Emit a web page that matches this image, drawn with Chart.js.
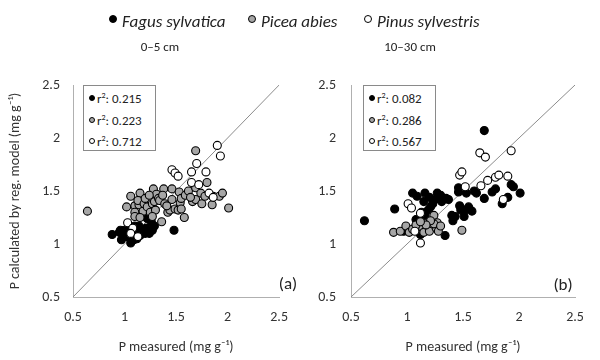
<!DOCTYPE html>
<html>
<head>
<meta charset="utf-8">
<script src="https://cdn.jsdelivr.net/npm/chart.js@4"></script>
<style>
body { margin: 0; background: #fff; }
#wrap { position: relative; width: 600px; height: 360px; font-family: Carlito, Lato, sans-serif; color: #222; }
canvas { position: absolute; top: 0; }
.t { position: absolute; white-space: nowrap; line-height: 1; }
.dot { position: absolute; border-radius: 50%; border: 1px solid #000; box-sizing: border-box; }
.box { position: absolute; border: 1px solid #8a8a8a; background: #fff; width: 73px; height: 66px; box-sizing: border-box; }
</style>
</head>
<body>
<div id="wrap">
  <canvas id="c1" width="300" height="360" style="left:0"></canvas>
  <canvas id="c2" width="300" height="360" style="left:300px"></canvas>
</div>
<script>
// axis ticks (both panels)
const axisTicks = [0.5, 1, 1.5, 2, 2.5];
const species = ['Fagus sylvatica', 'Picea abies', 'Pinus sylvestris'];
const depths = ['0–5 cm', '10–30 cm'];
const panelTags = ['(a)', '(b)'];
const r2Top = ['0.215', '0.223', '0.712'];
const r2Sub = ['0.082', '0.286', '0.567'];

// panel (a) 0-5 cm : [measured, calculated]
const fagusTop = [[0.88,1.09],[0.95,1.11],[0.96,1.13],[0.97,1.04],[1.00,1.13],[1.02,1.07],[1.00,1.08],[1.06,1.10],
  [1.06,1.01],[1.09,1.04],[1.10,1.17],[1.12,1.12],[1.14,1.17],[1.15,1.08],[1.18,1.13],[1.20,1.10],[1.21,1.15],
  [1.22,1.24],[1.25,1.25],[1.26,1.21],[1.27,1.13],[1.24,1.10],[1.48,1.13],[1.12,1.05],[1.05,1.15],[1.29,1.17]];
const piceaTop = [[0.64,1.31],[1.02,1.35],[1.06,1.45],[1.10,1.36],[1.10,1.30],[1.10,1.26],[1.14,1.37],[1.15,1.48],
  [1.18,1.31],[1.13,1.41],[1.19,1.38],[1.22,1.35],[1.25,1.30],[1.27,1.38],[1.28,1.52],[1.30,1.32],[1.29,1.40],
  [1.31,1.47],[1.33,1.43],[1.34,1.41],[1.36,1.21],[1.38,1.52],[1.39,1.38],[1.42,1.30],[1.44,1.32],[1.46,1.42],
  [1.46,1.52],[1.49,1.33],[1.52,1.32],[1.53,1.49],[1.54,1.39],[1.55,1.43],[1.55,1.33],[1.58,1.25],[1.59,1.46],
  [1.62,1.50],[1.66,1.40],[1.69,1.42],[1.69,1.53],[1.74,1.48],[1.75,1.38],[1.80,1.58],[1.85,1.37],[1.86,1.45],
  [1.92,1.45],[1.95,1.48],[2.01,1.34],[1.69,1.88],[1.15,1.25],[1.20,1.43],[1.24,1.46],[1.37,1.46],[1.41,1.36],
  [1.27,1.26],[1.64,1.44],[1.78,1.45]];
const pinusTop = [[1.03,1.20],[1.08,1.15],[1.06,1.10],[1.13,1.07],[1.46,1.70],[1.49,1.67],[1.52,1.64],[1.65,1.68],
  [1.70,1.76],[1.79,1.68],[1.90,1.93],[1.93,1.83],[1.65,1.58],[1.72,1.56],[1.82,1.48],[1.86,1.44]];

// panel (b) 10-30 cm
const fagusSub = [[0.62,1.22],[0.89,1.33],[0.97,1.12],[1.05,1.48],[1.09,1.45],[1.08,1.23],[1.12,1.20],[1.10,1.13],
  [1.12,1.09],[1.15,1.40],[1.16,1.48],[1.21,1.35],[1.27,1.48],[1.31,1.40],[1.35,1.43],[1.34,1.08],[1.40,1.27],
  [1.41,1.22],[1.46,1.53],[1.46,1.49],[1.47,1.36],[1.48,1.32],[1.52,1.32],[1.55,1.35],[1.58,1.31],[1.53,1.48],
  [1.60,1.50],[1.62,1.48],[1.69,1.43],[1.76,1.49],[1.79,1.52],[1.93,1.56],[1.95,1.54],[2.01,1.48],[1.85,1.38],
  [1.90,1.44],[1.69,2.07],[1.37,1.42],[1.43,1.26],[1.51,1.26],[1.13,1.30],[1.19,1.32],[1.23,1.38],[1.25,1.42],
  [1.30,1.46],[1.16,1.27],[1.20,1.44]];
const piceaSub = [[0.88,1.11],[0.94,1.12],[0.99,1.17],[1.02,1.11],[1.10,1.14],[1.14,1.15],[1.15,1.11],[1.20,1.12],
  [1.24,1.27],[1.26,1.15],[1.27,1.20],[1.28,1.12],[1.24,1.19],[1.49,1.13],[1.21,1.22],[1.05,1.14],[1.17,1.18],
  [1.08,1.18],[1.30,1.17],[1.12,1.21]];
const pinusSub = [[1.01,1.38],[1.04,1.34],[1.12,1.29],[1.07,1.12],[1.12,1.01],[1.47,1.65],[1.49,1.68],[1.52,1.54],
  [1.66,1.55],[1.72,1.60],[1.79,1.63],[1.82,1.65],[1.90,1.64],[1.86,1.42],[1.65,1.86],[1.70,1.82],[1.93,1.88]];

const fills = ['#000000', '#a6a6a6', '#ffffff'];
const font = 'Carlito, Lato, sans-serif';
const wrap = document.getElementById('wrap');

function pts(a) { return a.map(p => ({ x: p[0], y: p[1] })); }

function addText(txt, x, y, size, extra) {
  const d = document.createElement('div');
  d.className = 't';
  d.textContent = txt;
  d.style.fontSize = size + 'px';
  d.style.left = x + 'px';
  d.style.top = y + 'px';
  if (extra) Object.assign(d.style, extra);
  wrap.appendChild(d);
  return d;
}
function addDot(cx, cy, r, fill, parent) {
  const d = document.createElement('div');
  d.className = 'dot';
  d.style.width = d.style.height = (2 * r) + 'px';
  d.style.left = (cx - r) + 'px';
  d.style.top = (cy - r) + 'px';
  d.style.background = fill;
  (parent || wrap).appendChild(d);
}

function makeChart(id, series, yw, rightPad, withYTitle) {
  const ds = series.map((s, i) => ({
    data: pts(s), backgroundColor: fills[i], borderColor: '#000', borderWidth: 1.1,
    pointRadius: 4, order: 3 - i
  }));
  ds.push({ type: 'line', data: [{ x: 0.5, y: 0.5 }, { x: 2.5, y: 2.5 }], borderColor: '#8c8c8c',
    borderWidth: 1, pointRadius: 0, order: 10 });
  const axis = (extra) => Object.assign({
    type: 'linear', min: 0.5, max: 2.5,
    afterBuildTicks: s => { s.ticks = axisTicks.map(v => ({ value: v })); },
    grid: { display: false, drawTicks: false },
    border: { display: true, color: '#b0b0b0' },
  }, extra);
  return new Chart(document.getElementById(id), {
    type: 'scatter',
    data: { datasets: ds },
    options: {
      responsive: false, animation: false,
      layout: { padding: { top: 85, right: rightPad, left: 0, bottom: 0 } },
      plugins: { legend: { display: false }, tooltip: { enabled: false } },
      scales: {
        x: axis({
          ticks: { padding: 12, color: '#333', font: { family: font, size: 14 }, callback: v => String(v) },
          title: { display: true, text: 'P measured (mg g⁻¹)', color: '#333', padding: { top: 3 }, font: { family: font, size: 14 } },
          afterFit: s => { s.height = 63; }
        }),
        y: axis({
          ticks: { padding: withYTitle ? 13 : 15, color: '#333', font: { family: font, size: 14 }, callback: v => String(v) },
          title: { display: withYTitle, text: 'P calculated by reg. model (mg g⁻¹)', color: '#333', padding: { top: 7 }, font: { family: font, size: 14 } },
          afterFit: s => { s.width = yw; }
        })
      }
    }
  });
}

makeChart('c1', [fagusTop, piceaTop, pinusTop], 73, 1, true);
makeChart('c2', [fagusSub, piceaSub, pinusSub], 51, 25, false);

// species legend on top
const legX = [113, 252, 368];
species.forEach((s, i) => {
  addDot(legX[i], 19, 4, fills[i]);
  addText(s, legX[i] + 9, 13, 17, { fontStyle: 'italic' });
});

// depth captions and panel tags
addText(depths[0], 160, 40, 13, { transform: 'translateX(-50%)' });
addText(depths[1], 410, 40, 13, { transform: 'translateX(-50%)' });
addText(panelTags[0], 288, 275, 17, { transform: 'translateX(-50%)' });
addText(panelTags[1], 563, 276, 17, { transform: 'translateX(-50%)' });

// r² boxes
[[83, r2Top], [363, r2Sub]].forEach(([bx, vals]) => {
  const b = document.createElement('div');
  b.className = 'box';
  b.style.left = bx + 'px';
  b.style.top = '85px';
  wrap.appendChild(b);
  vals.forEach((v, i) => {
    const cy = 12 + i * 21.5;
    addDot(7.5, cy, 3, fills[i], b);
    const t = document.createElement('div');
    t.className = 't';
    t.innerHTML = 'r<sup style="font-size:8px;vertical-align:5px">2</sup>: ' + v;
    t.style.fontSize = '13px';
    t.style.left = '13px';
    t.style.top = (cy - 7) + 'px';
    b.appendChild(t);
  });
});
</script>
</body>
</html>
